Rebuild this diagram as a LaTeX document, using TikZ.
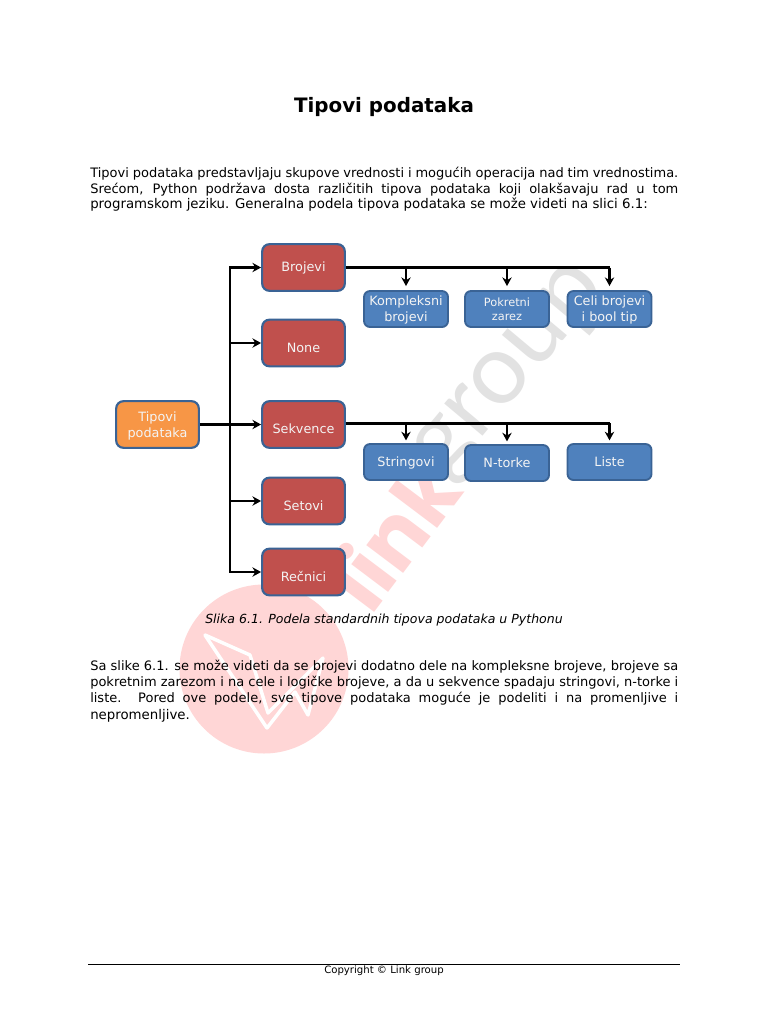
\documentclass[tikz,border=0pt]{standalone}
\usepackage{fontspec}
\setmainfont{DejaVu Sans}
\newfontfamily\wmfont{Lato}
\newfontfamily\wmbold{Poppins}
\usetikzlibrary{arrows.meta}
\definecolor{redfill}{HTML}{C0504D}
\definecolor{bluefill}{HTML}{4F81BD}
\definecolor{orangefill}{HTML}{F79646}
\definecolor{edgeblue}{HTML}{3A6395}
\definecolor{wmpink}{HTML}{FFD6D6}
\definecolor{wmgrey}{HTML}{E2E2E2}
\definecolor{lblwhite}{HTML}{F4F4F4}
\tikzset{
  box/.style={draw=edgeblue,line width=1.6pt,rounded corners=5.5pt,inner sep=0pt,text=lblwhite,align=center},
  redbox/.style={box,fill=redfill,minimum width=62pt,minimum height=35pt},
  orangebox/.style={box,fill=orangefill,minimum width=62pt,minimum height=35pt},
  bluebox/.style={box,fill=bluefill,minimum width=63pt,minimum height=27pt,line width=1.4pt,rounded corners=4.5pt},
  lbl/.style={text=lblwhite,align=center,inner sep=0pt,font=\fontsize{9.6pt}{12pt}\selectfont},
  trunk/.style={line width=2.2pt,draw=black},
  conn/.style={trunk,-{Stealth[length=6.5pt,width=7pt]}},
  drop/.style={line width=1.9pt,draw=black,-{Stealth[length=6.5pt,width=7pt]}},
  para/.style={anchor=west,inner sep=0pt,font=\fontsize{10pt}{12pt}\selectfont},
  wmtext/.style={inner sep=0pt},
}
\newcommand{\jline}[1]{\makebox[441pt][s]{\fontsize{9.75pt}{12pt}\selectfont #1}}
\begin{document}
\begin{tikzpicture}[x=0.75pt,y=-0.75pt]
\useasboundingbox (0,0) rectangle (768,1024);
\fill[white] (0,0) rectangle (768,1024);
% watermark
\fill[wmpink] (264,669) circle (84.5);
\draw[white,line width=2.6pt,line join=round] (205,635) -- (267,728) -- (295,692) -- (308,715) -- (323,658) -- (268,713) -- (250,655) -- cycle;
\node[wmtext,anchor=base,rotate=53,text=wmpink] (wmlink) at (418,554) {\wmbold\bfseries\fontsize{62pt}{62pt}\selectfont link};
\node[wmtext,anchor=mid,rotate=50,text=wmgrey] (wmgroup) at (524,382) {\wmfont\fontsize{74pt}{74pt}\selectfont group};
% title
\node[inner sep=0pt,font=\bfseries\fontsize{14.9pt}{20pt}\selectfont] (title) at (384,107.5) {Tipovi podataka};
% first paragraph
\node[para] (p1) at (90,173.5) {\jline{Tipovi podataka predstavljaju skupove vrednosti i mogućih operacija nad tim vrednostima.}};
\node[para] (p2) at (90,189.5) {\jline{Srećom, Python podržava dosta različitih tipova podataka koji olakšavaju rad u tom}};
\node[para] (p3) at (90,204.5) {programskom jeziku. Generalna podela tipova podataka se može videti na slici 6.1:};
% boxes
\node[orangebox,label={[lbl,yshift=-1pt]center:Tipovi\\podataka}] (tip) at (157.5,424.5) {};
\node[redbox,label={[lbl,yshift=-0.3pt]center:Brojevi}] (bro) at (303.5,267.5) {};
\node[redbox,label={[lbl,yshift=-4pt]center:None}] (non) at (303.5,343) {};
\node[redbox,label={[lbl,yshift=-3.5pt]center:Sekvence}] (sek) at (303.5,424.5) {};
\node[redbox,label={[lbl,yshift=-3.5pt]center:Setovi}] (set) at (303.5,501) {};
\node[redbox,label={[lbl,yshift=-3pt]center:Rečnici}] (rec) at (303.5,572) {};
\node[bluebox,label={[lbl,yshift=-0.6pt]center:Kompleksni\\brojevi}] (kom) at (406,309) {};
\node[bluebox,label={[lbl,font=\fontsize{8.5pt}{10.8pt}\selectfont]center:Pokretni\\zarez}] (pok) at (507,309) {};
\node[bluebox,label={[lbl,yshift=-0.6pt]center:Celi brojevi\\i bool tip}] (cel) at (609.5,309) {};
\node[bluebox,label={[lbl,yshift=-0.4pt]center:Stringovi}] (str) at (406,462) {};
\node[bluebox,label={[lbl]center:N-torke}] (nto) at (507,463) {};
\node[bluebox,label={[lbl]center:Liste}] (lis) at (609.5,462) {};
% connectors
\coordinate (sp) at (230,424.5);
\draw[trunk] (tip.east) -- (sp);
\draw[trunk,line cap=rect] (sp |- bro.west) -- (sp |- rec.west);
\foreach \n in {bro,non,sek,set,rec}{\draw[conn] (sp |- \n.west) -- (\n.west);}
\draw[trunk,line width=2.6pt] (bro.east) -- (cel.north |- bro.east);
\foreach \n in {kom,pok,cel}{\draw[drop,shorten >=3pt] (\n.north |- bro.east) -- (\n.north);}
\coordinate (sb) at ([yshift=1pt]sek.east);
\draw[trunk,line width=2pt] (sb) -- (lis.north |- sb);
\foreach \n in {str,nto,lis}{\draw[drop,shorten >=2pt] (\n.north |- sb) -- (\n.north);}
% caption
\node[inner sep=0pt,font=\itshape\fontsize{9.4pt}{12pt}\selectfont] (cap) at (384,620.5) {Slika 6.1. Podela standardnih tipova podataka u Pythonu};
% second paragraph
\node[para] (q1) at (90,666.5) {\jline{Sa slike 6.1. se može videti da se brojevi dodatno dele na kompleksne brojeve, brojeve sa}};
\node[para] (q2) at (90,682.5) {\jline{pokretnim zarezom i na cele i logičke brojeve, a da u sekvence spadaju stringovi, n-torke i}};
\node[para] (q3) at (90,698.5) {\jline{liste. Pored ove podele, sve tipove podataka moguće je podeliti i na promenljive i}};
\node[para] (q4) at (90,715.5) {nepromenljive.};
% footer
\coordinate (fl) at (88,964);
\coordinate (fr) at (680,964);
\draw[line width=0.75pt] (fl) -- (fr);
\node[inner sep=0pt,font=\fontsize{7.6pt}{9pt}\selectfont] (copy) at (384,971) {Copyright © Link group};
\end{tikzpicture}
\end{document}
